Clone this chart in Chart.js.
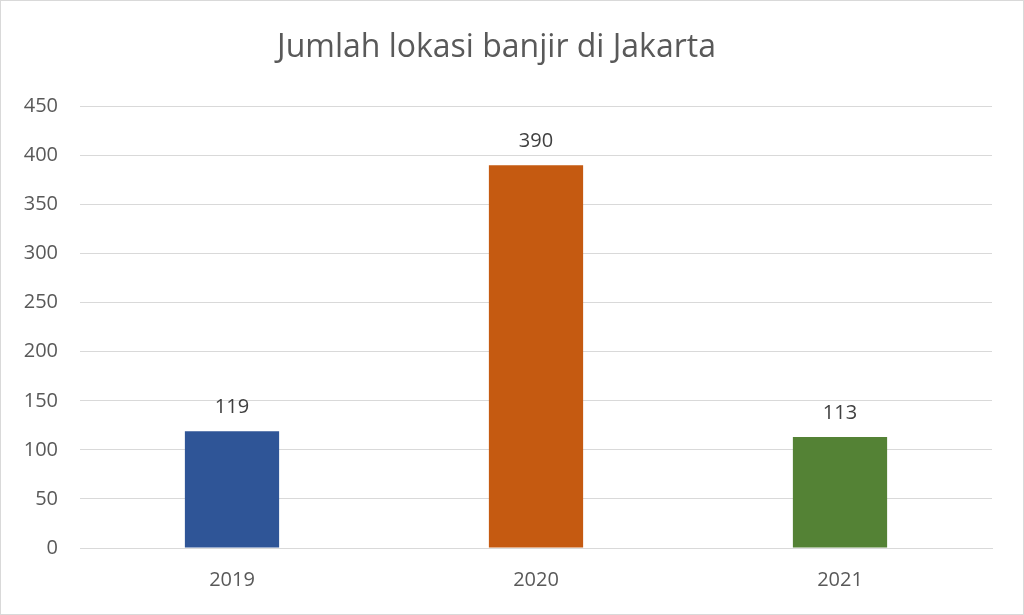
<!DOCTYPE html>
<html>
<head>
<meta charset="utf-8">
<script src="https://cdn.jsdelivr.net/npm/chart.js@4/dist/chart.umd.min.js"></script>
<style>
  html, body { margin: 0; padding: 0; background: #fff; }
  #wrap { width: 1022px; height: 613px; border: 1px solid #d9d9d9; }
</style>
</head>
<body>
<div id="wrap"><canvas id="floodChart" width="1022" height="613"></canvas></div>
<script>
const years = ['2019', '2020', '2021'];
const floodLocations = [119, 390, 113];
const barColors = ['#2F5597', '#C55A11', '#548235'];
const yTicks = [0, 50, 100, 150, 200, 250, 300, 350, 400, 450];

// value labels above the bars
const valueLabels = {
    id: 'valueLabels',
    afterDatasetsDraw(chart) {
        const ctx = chart.ctx;
        const meta = chart.getDatasetMeta(0);
        ctx.save();
        ctx.font = '20px "Open Sans", Calibri, sans-serif';
        ctx.fillStyle = '#404040';
        ctx.textAlign = 'center';
        ctx.textBaseline = 'middle';
        meta.data.forEach((bar, i) => {
            ctx.fillText(floodLocations[i], bar.x, bar.y - 24);
        });
        ctx.restore();
    }
};

new Chart(document.getElementById('floodChart'), {
    type: 'bar',
    data: {
        labels: years,
        datasets: [{
            data: floodLocations,
            backgroundColor: barColors,
            categoryPercentage: 1,
            barPercentage: 0.31
        }]
    },
    options: {
        responsive: false,
        animation: false,
        layout: { padding: { left: 0, right: 31, top: 0, bottom: 0 } },
        plugins: {
            legend: { display: false },
            tooltip: { enabled: false },
            title: {
                display: true,
                text: 'Jumlah lokasi banjir di Jakarta',
                color: '#595959',
                font: { size: 32, family: '"Open Sans", Calibri, sans-serif', weight: 'normal' },
                padding: { top: 28, bottom: 39 }
            }
        },
        scales: {
            x: {
                grid: { display: false },
                border: { color: '#d9d9d9' },
                ticks: { color: '#595959', font: { size: 20, family: '"Open Sans", Calibri, sans-serif' }, padding: 12 },
                afterFit(scale) { scale.height = 66; }
            },
            y: {
                min: 0,
                max: 450,
                afterBuildTicks(scale) { scale.ticks = yTicks.map(v => ({ value: v })); },
                grid: { color: '#d9d9d9', drawTicks: false },
                border: { display: false },
                ticks: { color: '#595959', font: { size: 20, family: '"Open Sans", Calibri, sans-serif' }, padding: 22 },
                afterFit(scale) { scale.width = 79; }
            }
        }
    },
    plugins: [valueLabels]
});
</script>
</body>
</html>
